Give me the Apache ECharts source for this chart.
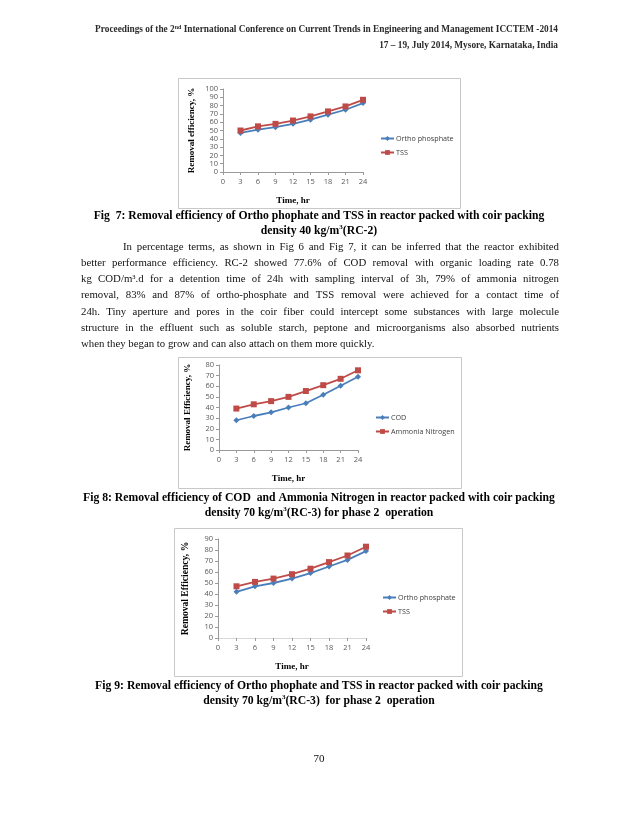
<!DOCTYPE html>
<html>
<head>
<meta charset="utf-8">
<script src="https://cdn.jsdelivr.net/npm/echarts@6/dist/echarts.min.js"></script>
<style>
html, body { margin: 0; padding: 0; background: #fff; }
#page { width: 638px; height: 826px; }
</style>
</head>
<body>
<div id="page"></div>
<script>
// ---------- data ----------
const hours = [3, 6, 9, 12, 15, 18, 21, 24];
const orthoRC2 = [47, 51, 54, 58, 63, 69, 75, 83];
const tssRC2 = [50, 55, 58, 62, 67, 73, 79, 87];
const codRC3 = [28, 32, 35.5, 40, 44, 52, 60.5, 69];
const ammoniaRC3 = [39, 43, 46, 50, 55.5, 61, 67, 75];
const orthoRC3 = [42, 47, 50, 54, 59, 65, 71, 79];
const tssRC3 = [47, 51, 54, 58, 63, 69, 75, 83];
const yMax = [100, 80, 90];

const paragraph = [
	"In percentage terms, as shown in Fig 6 and Fig 7, it can be inferred that the reactor exhibited",
	"better performance efficiency. RC-2 showed 77.6% of COD removal with organic loading rate 0.78",
	"kg COD/m\u00b3.d for a detention time of 24h with sampling interval of 3h, 79% of ammonia nitrogen",
	"removal, 83% and 87% of ortho-phosphate and TSS removal were achieved for a contact time of",
	"24h. Tiny aperture and pores in the coir fiber could intercept some substances with large molecule",
	"structure in the effluent such as soluble starch, peptone and microorganisms also absorbed nutrients",
	"when they began to grow and can also attach on them more quickly."
];

const page = echarts.init(document.getElementById("page"));

const SERIF = '"Liberation Serif", "Times New Roman", serif';
const SANS = '"Open Sans", "Liberation Sans", sans-serif';
const BLUE = '#4a7ebb';
const RED = '#be4b48';

function pair(x, y) {
	return x.map(function (h, i) { return [h, y[i]]; });
}

// ---------- justified paragraph, word by word ----------
const ctx = document.createElement('canvas').getContext('2d');
const paraFont = '10.8px ' + SERIF;
function lineWords(line, y, x0, x1, last) {
	ctx.font = paraFont;
	const words = line.split(' ');
	const widths = words.map(function (w) { return ctx.measureText(w).width; });
	const total = widths.reduce(function (a, b) { return a + b; }, 0);
	const gap = last ? ctx.measureText(' ').width : (x1 - x0 - total) / (words.length - 1);
	let x = x0;
	return words.map(function (w, i) {
		const el = { type: 'text', x: x, y: y, silent: true,
			style: { text: w, font: paraFont, fill: '#111', verticalAlign: 'middle' } };
		x += widths[i] + gap;
		return el;
	});
}

const graphics = [];
// page header
graphics.push({
	type: 'text', x: 558, y: 30, silent: true,
	style: {
		text: '{b|Proceedings of the 2}{s|nd}{b| International Conference on Current Trends in Engineering and Management ICCTEM -2014}',
		align: 'right', verticalAlign: 'middle', fill: '#2b2b2b',
		rich: {
			b: { fontFamily: SERIF, fontWeight: 'bold', fontSize: 9.3, lineHeight: 12, fill: '#2b2b2b' },
			s: { fontFamily: SERIF, fontWeight: 'bold', fontSize: 6, lineHeight: 12, verticalAlign: 'top', fill: '#2b2b2b' }
		}
	}
});
graphics.push({
	type: 'text', x: 558, y: 45.5, silent: true,
	style: { text: '17 \u2013 19, July 2014, Mysore, Karnataka, India', align: 'right', verticalAlign: 'middle',
		font: 'bold 9.3px ' + SERIF, fill: '#2b2b2b' }
});

// chart frames
[[178, 78, 282, 130], [178, 357, 283, 131], [174, 528, 288, 148]].forEach(function (b) {
	graphics.push({ type: 'rect', silent: true, shape: { x: b[0] + 0.5, y: b[1] + 0.5, width: b[2], height: b[3] },
		style: { fill: 'none', stroke: '#c8c8c8', lineWidth: 1 } });
});

// captions
function caption(y, l1, l2) {
	const rich = {
		b: { fontFamily: SERIF, fontWeight: 'bold', fontSize: 11.7, lineHeight: 14, fill: '#000' },
		s: { fontFamily: SERIF, fontWeight: 'bold', fontSize: 7, lineHeight: 14, verticalAlign: 'top', fill: '#000' }
	};
	graphics.push({ type: 'text', x: 319, y: y, silent: true,
		style: { text: l1, align: 'center', verticalAlign: 'middle', rich: rich } });
	graphics.push({ type: 'text', x: 319, y: y + 15, silent: true,
		style: { text: l2, align: 'center', verticalAlign: 'middle', rich: rich } });
}
caption(216, '{b|Fig  7: Removal efficiency of Ortho phophate and TSS in reactor packed with coir packing}',
	'{b|density 40 kg/m}{s|3}{b|(RC-2)}');
caption(498, '{b|Fig 8: Removal efficiency of COD  and Ammonia Nitrogen in reactor packed with coir packing}',
	'{b|density 70 kg/m}{s|3}{b|(RC-3) for phase 2  operation}');
caption(686, '{b|Fig 9: Removal efficiency of Ortho phophate and TSS in reactor packed with coir packing}',
	'{b|density 70 kg/m}{s|3}{b|(RC-3)  for phase 2  operation}');

// paragraph
paragraph.forEach(function (line, i) {
	const x0 = i === 0 ? 123 : 81;
	const els = lineWords(line, 247 + i * 16.2, x0, 559, i === paragraph.length - 1);
	els.forEach(function (e) { graphics.push(e); });
});

// page number
graphics.push({ type: 'text', x: 319, y: 759, silent: true,
	style: { text: '70', align: 'center', verticalAlign: 'middle', font: '11px ' + SERIF, fill: '#111' } });

// ---------- the three charts ----------
const grids = [
	{ left: 223, top: 89, width: 140, height: 83 },
	{ left: 219, top: 365, width: 139, height: 85 },
	{ left: 218, top: 539, width: 148, height: 99 }
];
const yNames = ['Removal efficiency, %', 'Removal Efficiency, %', 'Removal Efficiency, %'];
const nameSizes = [9, 9, 9.6];

const axisLabel = { fontFamily: SANS, fontSize: 7.5, color: '#595959' };

const xAxes = grids.map(function (g, i) {
	return {
		gridIndex: i, type: 'value', min: 0, max: 24, interval: 3,
		name: 'Time, hr', nameLocation: 'middle', nameGap: 24,
		nameTextStyle: { fontFamily: SERIF, fontWeight: 'bold', fontSize: 9, color: '#000' },
		axisLine: { lineStyle: { color: i === 2 ? '#d9d9d9' : '#9a9a9a', width: 1 } },
		axisTick: { show: true, length: 3, lineStyle: { color: '#9a9a9a' } },
		axisLabel: Object.assign({ margin: 6 }, axisLabel),
		splitLine: { show: false }
	};
});
const yAxes = grids.map(function (g, i) {
	return {
		gridIndex: i, type: 'value', min: 0, max: yMax[i], interval: 10,
		name: yNames[i], nameLocation: 'middle', nameGap: 27,
		nameTextStyle: { fontFamily: SERIF, fontWeight: 'bold', fontSize: nameSizes[i], color: '#000' },
		axisLine: { show: true, lineStyle: { color: '#9a9a9a', width: 1 } },
		axisTick: { show: true, length: 3, lineStyle: { color: '#9a9a9a' } },
		axisLabel: Object.assign({ margin: 5 }, axisLabel),
		splitLine: { show: false }
	};
});

function lineSeries(name, idx, values, color, symbol, size) {
	return {
		name: name, type: 'line', xAxisIndex: idx, yAxisIndex: idx,
		data: pair(hours, values),
		symbol: symbol, symbolSize: size, showSymbol: true,
		lineStyle: { color: color, width: 1.8 },
		itemStyle: { color: color },
		animation: false
	};
}

const series = [
	lineSeries('Ortho phosphate', 0, orthoRC2, BLUE, 'diamond', 6),
	lineSeries('TSS', 0, tssRC2, RED, 'rect', 6),
	lineSeries('COD', 1, codRC3, BLUE, 'diamond', 6),
	lineSeries('Ammonia Nitrogen', 1, ammoniaRC3, RED, 'rect', 6),
	lineSeries('Ortho phosphate', 2, orthoRC3, BLUE, 'diamond', 6),
	lineSeries('TSS', 2, tssRC3, RED, 'rect', 6)
];

function legendAt(left, top, names) {
	return {
		orient: 'vertical', left: left, top: top, data: names,
		itemWidth: 13, itemHeight: 6, itemGap: 7, selectedMode: false, padding: 0,
		textStyle: { fontFamily: SANS, fontSize: 7.2, color: '#404040', padding: [0, 0, 0, -3] }
	};
}

page.setOption({
	backgroundColor: '#ffffff',
	animation: false,
	grid: grids,
	xAxis: xAxes,
	yAxis: yAxes,
	legend: [
		legendAt(380, 135, ['Ortho phosphate', 'TSS']),
		legendAt(375, 414, ['COD', 'Ammonia Nitrogen']),
		legendAt(382, 594, ['Ortho phosphate', 'TSS'])
	],
	series: series,
	graphic: graphics
});

window.onresize = function () {
	page.resize();
};
</script>
</body>
</html>
